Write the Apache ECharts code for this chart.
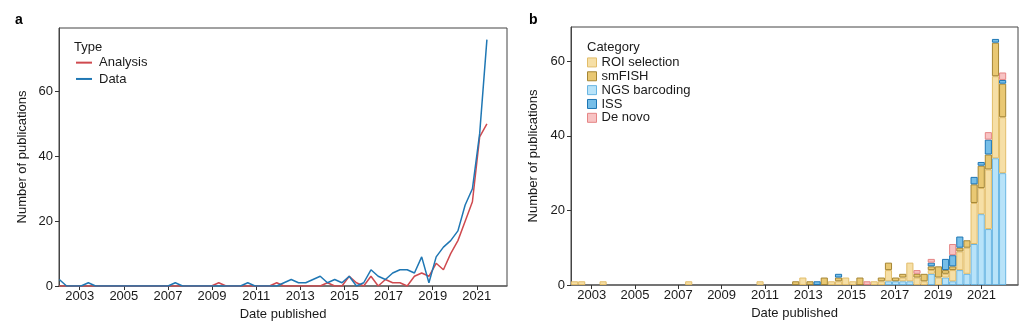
<!DOCTYPE html>
<html>
<head>
<meta charset="utf-8">
<script src="https://cdn.jsdelivr.net/npm/echarts@6/dist/echarts.min.js"></script>
<style>
html,body{margin:0;padding:0;background:#fff;}
#c{width:1035px;height:330px;}
</style>
</head>
<body>
<div id="c"></div>
<script>
// ---------- data ----------
const yearTicks = [2003, 2005, 2007, 2009, 2011, 2013, 2015, 2017, 2019, 2021];
const countTicks = [0, 20, 40, 60];

// Panel a: publications per 120-day bin (60 bins)
const lineBinStart = 2002.075;
const binYears = 120 / 365.25;
const analysisCounts = [
  0,0,0,0,0,0,0,0,0,0,
  0,0,0,0,0,0,0,0,0,0,
  0,0,1,0,0,0,0,0,0,0,
  1,0,0,0,0,0,0,1,0,0,
  3,1,0,3,0,2,1,1,0,3,
  4,3,7,5,10,14,20,26,46,50
];
const dataCounts = [
  2,0,0,0,1,0,0,0,0,0,
  0,0,0,0,0,0,1,0,0,0,
  0,0,0,0,0,0,1,0,0,0,
  0,1,2,1,1,2,3,1,2,1,
  3,0,1,5,3,2,4,5,5,4,
  9,1,9,12,14,17,25,30,47,76
];

// Panel b: stacked histogram (61 bins), bottom to top: NGS, ROI, smFISH, ISS, De novo
const barBinStart = 2002.045;
const barBinYears = 0.3295;
const ngsCounts = [
  0,0,0,0,0,0,0,0,0,0,
  0,0,0,0,0,0,0,0,0,0,
  0,0,0,0,0,0,0,0,0,0,
  0,0,0,0,0,0,0,0,0,0,
  0,0,0,0,1,1,1,1,0,0,
  3,0,2,1,4,3,11,19,15,34,
  30
];
const roiCounts = [
  1,1,0,0,1,0,0,0,0,0,
  0,0,0,0,0,0,1,0,0,0,
  0,0,0,0,0,0,1,0,0,0,
  0,0,2,0,0,0,1,1,2,1,
  0,0,1,1,3,0,1,5,2,1,
  1,2,1,3,5,7,11,7,16,22,
  15
];
const smfishCounts = [
  0,0,0,0,0,0,0,0,0,0,
  0,0,0,0,0,0,0,0,0,0,
  0,0,0,0,0,0,0,0,0,0,
  0,1,0,1,0,2,0,1,0,0,
  2,0,0,1,2,1,1,0,1,2,
  1,3,1,1,1,2,5,6,4,9,
  9
];
const issCounts = [
  0,0,0,0,0,0,0,0,0,0,
  0,0,0,0,0,0,0,0,0,0,
  0,0,0,0,0,0,0,0,0,0,
  0,0,0,0,1,0,0,1,0,0,
  0,0,0,0,0,0,0,0,0,0,
  1,0,3,3,3,0,2,1,4,1,
  1
];
const denovoCounts = [
  0,0,0,0,0,0,0,0,0,0,
  0,0,0,0,0,0,0,0,0,0,
  0,0,0,0,0,0,0,0,0,0,
  0,0,0,0,0,0,0,0,0,0,
  0,1,0,0,0,0,0,0,1,0,
  1,0,0,3,0,0,0,0,2,0,
  2
];
const typeNames = ['Analysis', 'Data'];
const categoryNames = ['ROI selection', 'smFISH', 'NGS barcoding', 'ISS', 'De novo'];

// ---------- styles ----------
const FONT = "'Liberation Sans', Arial, Helvetica, sans-serif";
const TXT = '#1a1a1a';
const lineColors = { 'Analysis': '#cf4a4f', 'Data': '#1f77b4' };
const catStyle = {
  'ROI selection': { fill: '#f6dfa6', stroke: '#e2bd6a' },
  'smFISH':        { fill: '#e9c873', stroke: '#a58634' },
  'NGS barcoding': { fill: '#b8e3f9', stroke: '#69b5e2' },
  'ISS':           { fill: '#76bee8', stroke: '#1e76b4' },
  'De novo':       { fill: '#f8c3c3', stroke: '#e58585' }
};
const stackOrder = [
  ['NGS barcoding', ngsCounts],
  ['ROI selection', roiCounts],
  ['smFISH', smfishCounts],
  ['ISS', issCounts],
  ['De novo', denovoCounts]
];

// ---------- build ----------
const analysisPts = analysisCounts.map((v, i) => [lineBinStart + i * binYears, v]);
const dataPts = dataCounts.map((v, i) => [lineBinStart + i * binYears, v]);

const cum = new Array(ngsCounts.length).fill(0);
const barSeries = stackOrder.map(([name, arr]) => {
  const segs = [];
  arr.forEach((v, i) => {
    const base = cum[i];
    if (v > 0) {
      const x0 = barBinStart + i * barBinYears;
      segs.push([x0, x0 + barBinYears, base, base + v]);
    }
    cum[i] = base + v;
  });
  const st = catStyle[name];
  return {
    name: name,
    type: 'custom',
    xAxisIndex: 1,
    yAxisIndex: 1,
    itemStyle: { color: st.fill, borderColor: st.stroke },
    encode: { x: [0, 1], y: [2, 3] },
    data: segs,
    renderItem: function (params, api) {
      const p0 = api.coord([api.value(0), api.value(2)]);
      const p1 = api.coord([api.value(1), api.value(3)]);
      return {
        type: 'rect',
        shape: { x: p0[0] + 0.5, y: p1[1] + 0.5, width: p1[0] - p0[0] - 1, height: p0[1] - p1[1] - 1 },
        style: { fill: st.fill, stroke: st.stroke, lineWidth: 1 }
      };
    }
  };
});

function xAxisCfg(gridIndex, min, max) {
  return {
    type: 'value', gridIndex: gridIndex, min: min, max: max,
    name: 'Date published', nameLocation: 'middle', nameGap: 20,
    nameTextStyle: { fontFamily: FONT, fontSize: 13, color: TXT },
    axisLine: { show: true, onZero: false, lineStyle: { color: '#666', width: 1.5 } },
    axisTick: { show: true, inside: false, length: 4, customValues: yearTicks, lineStyle: { color: '#333' } },
    axisLabel: { show: true, margin: 4, customValues: yearTicks, fontFamily: FONT, fontSize: 13, color: TXT,
      formatter: v => String(v) },
    splitLine: { show: false }
  };
}
function yAxisCfg(gridIndex, max, gap) {
  return {
    type: 'value', gridIndex: gridIndex, min: 0, max: max,
    name: 'Number of publications', nameLocation: 'middle', nameGap: gap,
    nameTextStyle: { fontFamily: FONT, fontSize: 13, color: TXT },
    axisLine: { show: true, lineStyle: { color: '#444', width: 1 } },
    axisTick: { show: true, inside: false, length: 4, customValues: countTicks, lineStyle: { color: '#333' } },
    axisLabel: { show: true, margin: 6, customValues: countTicks, fontFamily: FONT, fontSize: 13, color: TXT },
    splitLine: { show: false }
  };
}

const option = {
  animation: false,
  backgroundColor: '#fff',
  grid: [
    { left: 59, top: 28, width: 448, height: 258, show: true, borderColor: '#444', borderWidth: 1, containLabel: false },
    { left: 571, top: 27, width: 447, height: 258, show: true, borderColor: '#444', borderWidth: 1, containLabel: false }
  ],
  xAxis: [xAxisCfg(0, 2002.06, 2022.37), xAxisCfg(1, 2002.045, 2022.69)],
  yAxis: [yAxisCfg(0, 79.6, 30), yAxisCfg(1, 69.2, 31)],
  legend: [
    {
      orient: 'vertical', left: 76, top: 54.5, itemGap: 0, padding: 0,
      itemWidth: 16, itemHeight: 2, icon: 'rect',
      textStyle: { fontFamily: FONT, fontSize: 13, color: TXT, lineHeight: 16.3, padding: [0, 0, 0, 2] },
      data: typeNames.map(n => ({ name: n, icon: 'rect', itemStyle: { color: lineColors[n] } }))
    },
    {
      orient: 'vertical', left: 587, top: 55.5, itemGap: 0, padding: 0,
      itemWidth: 9, itemHeight: 9, icon: 'rect',
      textStyle: { fontFamily: FONT, fontSize: 13, color: TXT, lineHeight: 13.85 },
      data: categoryNames.map(n => ({ name: n, icon: 'rect',
        itemStyle: { color: catStyle[n].fill, borderColor: catStyle[n].stroke, borderWidth: 1 } }))
    }
  ],
  graphic: [
    { type: 'text', left: 15, top: 13, style: { text: 'a', font: "bold 14px " + FONT, fill: '#000' } },
    { type: 'text', left: 529, top: 13, style: { text: 'b', font: "bold 14px " + FONT, fill: '#000' } },
    { type: 'text', left: 74, top: 40.5, style: { text: 'Type', font: "13px " + FONT, fill: TXT } },
    { type: 'text', left: 587, top: 40.5, style: { text: 'Category', font: "13px " + FONT, fill: TXT } }
  ],
  series: [
    { name: 'Analysis', type: 'line', xAxisIndex: 0, yAxisIndex: 0, data: analysisPts,
      showSymbol: false, symbol: 'none', lineStyle: { color: lineColors['Analysis'], width: 1.5 },
      itemStyle: { color: lineColors['Analysis'] }, z: 3 },
    { name: 'Data', type: 'line', xAxisIndex: 0, yAxisIndex: 0, data: dataPts,
      showSymbol: false, symbol: 'none', lineStyle: { color: lineColors['Data'], width: 1.5 },
      itemStyle: { color: lineColors['Data'] }, z: 4 }
  ].concat(barSeries)
};

const chart = echarts.init(document.getElementById('c'), null, { renderer: 'canvas' });
chart.setOption(option);
</script>
</body>
</html>
